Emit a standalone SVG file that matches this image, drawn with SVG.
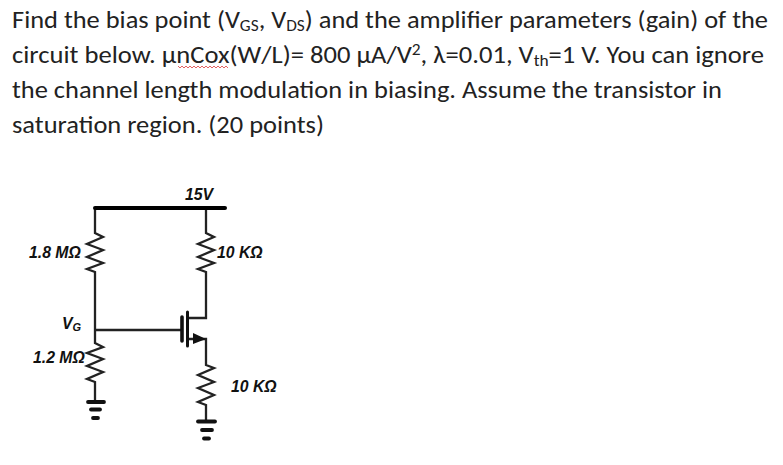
<svg xmlns="http://www.w3.org/2000/svg" width="783" height="465" viewBox="0 0 783 465">
<style>
.q{font-family:Carlito,Lato,"Open Sans","Liberation Sans",sans-serif;font-size:24.5px;fill:#222}
.l{font-family:"Liberation Sans",Arial,sans-serif;font-size:15.8px;font-weight:bold;font-style:italic;fill:#111}
.w{fill:none;stroke:#222;stroke-width:2.3;stroke-linejoin:miter}
.g{stroke:#111;stroke-width:3.8;stroke-linecap:round}
</style>
<rect width="783" height="465" fill="#fff"/>
<g id="question">
<text class="q" x="12" y="27.500" textLength="756" lengthAdjust="spacingAndGlyphs">Find the bias point (V<tspan font-size="16" dy="3">GS</tspan><tspan dy="-3">, V</tspan><tspan font-size="16" dy="3">DS</tspan><tspan dy="-3">) and the amplifier parameters (gain) of the</tspan></text>
<text class="q" x="12" y="62.500" textLength="752" lengthAdjust="spacingAndGlyphs">circuit below. µnCox(W/L)= 800 µA/V<tspan font-size="16" dy="-8">2</tspan><tspan dy="8">, λ=0.01, V</tspan><tspan font-size="16" dy="3">th</tspan><tspan dy="-3">=1 V. You can ignore</tspan></text>
<text class="q" x="12" y="97.500" textLength="710" lengthAdjust="spacingAndGlyphs">the channel length modulation in biasing. Assume the transistor in</text>
<text class="q" x="12" y="132.500" textLength="312" lengthAdjust="spacingAndGlyphs">saturation region. (20 points)</text>
<path d="M178 66l2 2 2-2 2 2 2-2 2 2 2-2 2 2 2-2 2 2 2-2 2 2 2-2 2 2 2-2 2 2 2-2 2 2 2-2 2 2 2-2 2 2 2-2 2 2 2-2 2 2" fill="none" stroke="#e05050" stroke-width="0.9"/>
</g>
<g id="connectors">
<path class="w" d="M95 208V233L103 237 87 244 103 250 87 257 103 263 87 269 95 272V343L103 347 87 353 103 359 87 366 103 372 87 379 95 382V401"/>
<path class="w" d="M95 330H182"/>
<path class="w" d="M206 208V233L214 237 198 244 214 250 198 257 214 263 198 269 206 272V318H188"/>
<path class="w" d="M188 339H206V365L214 368 198 375 214 382 198 388 214 395 198 402 206 405V421"/>
</g>
<g id="rail"><path d="M95 208H225" stroke="#000" stroke-width="4" stroke-linecap="round"/></g>
<g id="transistor">
<path d="M182 317V341" stroke="#111" stroke-width="3.600" stroke-linecap="round"/>
<path d="M187.500 312V346" stroke="#111" stroke-width="3" stroke-linecap="round"/>
<path d="M193 333L206 339 193 344Z" fill="#111"/>
</g>
<g id="ground-left">
<path class="g" d="M88 402H104"/><path class="g" d="M91 409.500H100"/><path class="g" d="M93 418H98"/>
</g>
<g id="ground-right">
<path class="g" d="M198 421.500H215"/><path class="g" d="M202 430H212"/><path class="g" d="M204 438.500H209"/>
</g>
<g id="labels">
<text class="l" x="185" y="200">15V</text>
<text class="l" x="29" y="258">1.8 MΩ</text>
<text class="l" x="217" y="258">10 KΩ</text>
<text class="l" x="62" y="329">V<tspan font-size="11" dy="2">G</tspan></text>
<text class="l" x="33" y="363">1.2 MΩ</text>
<text class="l" x="231" y="392">10 KΩ</text>
</g>
</svg>
